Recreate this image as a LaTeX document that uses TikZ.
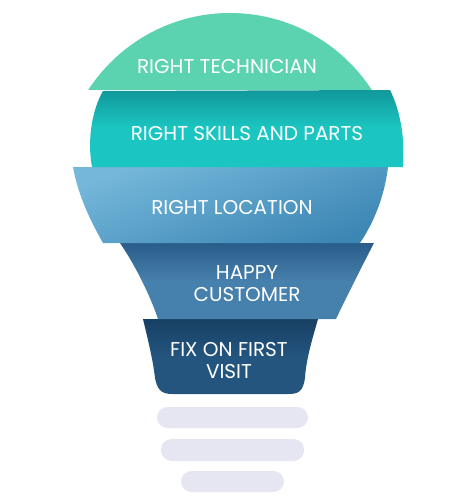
\documentclass[tikz,border=0pt]{standalone}
\usepackage{fontspec}
\setmainfont{Poppins}
\usetikzlibrary{fadings}
\definecolor{cdome}{HTML}{5CD3B0}
\definecolor{cteal}{HTML}{1BC6C2}
\definecolor{ctealdk}{HTML}{11989A}
\definecolor{cloclt}{HTML}{74B7DA}
\definecolor{clocdk}{HTML}{3C86B4}
\definecolor{chapy}{HTML}{4680AC}
\definecolor{chapydk}{HTML}{2A5D89}
\definecolor{cfix}{HTML}{24557F}
\definecolor{cfixdk}{HTML}{173F63}
\definecolor{cbar}{HTML}{E6E6F3}
\begin{document}
\begin{tikzpicture}[x=1pt,y=-1pt,
  lbl/.style={text=white,font=\fontsize{20}{22}\selectfont,align=center,inner sep=0pt},
  barstyle/.style={fill=cbar,rounded corners=10.5pt}]
\useasboundingbox (0,0) rectangle (474,504);
% bulb bars
\fill[barstyle] (157,407) rectangle (308,428);
\fill[barstyle] (161,439) rectangle (304,461);
\fill[barstyle] (181,471) rectangle (284,492);
% band 5
\path[top color=cfixdk,bottom color=cfix,middle color=cfix]
  (143,319) -- (318,319) .. controls (312,340) and (306,360) .. (305,378)
  .. controls (303,392) and (298,394) .. (288,394) -- (172,394)
  .. controls (160,394) and (157,388) .. (155,378)
  .. controls (153,360) and (148,340) .. (143,319) -- cycle;
% band 4
\path[top color=chapydk,bottom color=chapy,middle color=chapy]
  (120,243) -- (374,243) .. controls (360,270) and (345,300) .. (336,319)
  -- (158,319) .. controls (150,295) and (135,265) .. (120,243) -- cycle;
% band 3
\path[left color=cloclt,right color=clocdk,shading angle=20]
  (73,167) -- (388,167) .. controls (384,200) and (372,225) .. (360,243)
  -- (103,243) .. controls (90,220) and (78,195) .. (73,167) -- cycle;
% band 2
\path[top color=ctealdk,bottom color=cteal,middle color=cteal]
  (103,91) -- (390,90) .. controls (401,112) and (405,140) .. (403,167)
  -- (92,167) .. controls (87,140) and (92,110) .. (103,91) -- cycle;
% dome
\begin{scope}
  \clip (230,182) circle (169pt);
  \fill[cdome] (0,0) rectangle (474,90);
\end{scope}
% labels
\node[lbl] (t1) at (227,66) {RIGHT TECHNICIAN};
\node[lbl] (t2) at (247,134) {RIGHT SKILLS AND PARTS};
\node[lbl] (t3) at (232,208) {RIGHT LOCATION};
\node[lbl] (t4) at (247,284) {HAPPY\\CUSTOMER};
\node[lbl] (t5) at (229,361) {FIX ON FIRST\\VISIT};
\end{tikzpicture}
\end{document}
